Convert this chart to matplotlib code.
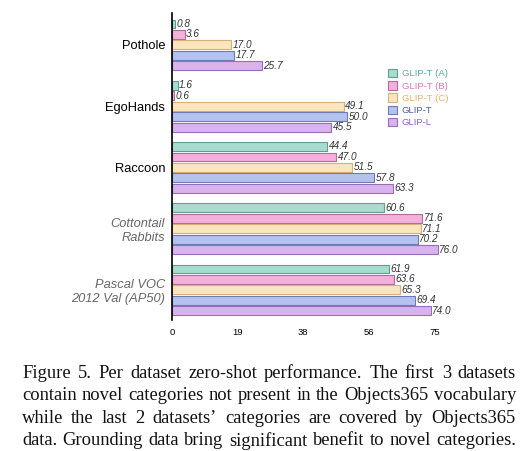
import matplotlib
matplotlib.use('Agg')
from matplotlib import pyplot as plt
from matplotlib.patches import Patch

# ── data ──────────────────────────────────────────────────────────────────────
datasets = ["Pothole", "EgoHands", "Raccoon", "Cottontail\nRabbits", "Pascal VOC\n2012 Val (AP50)"]
models = ["GLIP-T (A)", "GLIP-T (B)", "GLIP-T (C)", "GLIP-T", "GLIP-L"]
glip_t_a = [0.8, 1.6, 44.4, 60.6, 61.9]
glip_t_b = [3.6, 0.6, 47.0, 71.6, 63.6]
glip_t_c = [17.0, 49.1, 51.5, 71.1, 65.3]
glip_t = [17.7, 50.0, 57.8, 70.2, 69.4]
glip_l = [25.7, 45.5, 63.3, 76.0, 74.0]
xticks = [0, 18.75, 37.5, 56.25, 75]
xtick_labels = ["0", "19", "38", "56", "75"]
caption = [
    "Figure 5.  Per dataset zero-shot performance.  The first 3 datasets",
    "contain novel categories not present in the Objects365 vocabulary",
    "while the last 2 datasets’ categories are covered by Objects365",
    "data. Grounding data bring significant benefit to novel categories.",
]

series = [glip_t_a, glip_t_b, glip_t_c, glip_t, glip_l]
faces = ["#a8dccf", "#f2b0da", "#fbe5bf", "#b5c2f0", "#d9b2f0"]
edges = ["#5f9e90", "#b46a9c", "#d4b07a", "#6c7bb4", "#9a6eb6"]
legend_text = ["#5fa898", "#d07cb6", "#e6b46c", "#4c5c9c", "#8e5cbc"]

plt.rcParams['font.family'] = ['Liberation Sans', 'DejaVu Sans']

fig = plt.figure(figsize=(5.28, 4.51), dpi=100)
ax = fig.add_axes([0.3258, 0.2905, 0.53, 0.6807])

group_step = 5.85
for j, vals in enumerate(series):
    ys = [i * group_step + j for i in range(len(datasets))]
    ax.barh(ys, vals, height=0.85, color=faces[j], edgecolor=edges[j], linewidth=0.8)
    for y, v in zip(ys, vals):
        ax.text(v + 0.4, y, f"{v:.1f}", va="center", ha="left", fontsize=7.2,
                style="italic", color="#333333")

ax.set_ylim(28.27, -1.05)
ax.set_xlim(0, 80)
ax.set_yticks([i * group_step + 2 for i in range(len(datasets))])
ax.set_yticklabels(datasets, fontsize=9.3)
for k, lab in enumerate(ax.get_yticklabels()):
    if k >= 3:
        lab.set_style("italic")
        lab.set_color("#666666")
    lab.set_multialignment("right")
ax.set_xticks(xticks)
ax.set_xticklabels(xtick_labels, fontsize=6.8)
ax.tick_params(axis="both", length=0)
ax.tick_params(axis="x", pad=6)
ax.tick_params(axis="y", pad=5)
ax.spines[["right", "top", "bottom"]].set_visible(False)
ax.spines["left"].set_linewidth(1.2)

handles = [Patch(facecolor=faces[j], edgecolor=edges[j], linewidth=0.8) for j in range(5)]
leg = fig.legend(handles, models, loc="upper left", bbox_to_anchor=(0.725, 0.858),
                 frameon=False, fontsize=6.8, handlelength=1.0, handleheight=1.0,
                 handletextpad=0.5, labelspacing=0.3, borderpad=0)
for t, c in zip(leg.get_texts(), legend_text):
    t.set_color(c)

# caption, justified between two margins
left, right = 22 / 528, 516 / 528
renderer = fig.canvas.get_renderer()
for n, line in enumerate(caption):
    y = 1 - (373 + n * 22.6) / 451
    words = [w for w in line.split(" ") if w]
    texts = [fig.text(0, y, w, fontsize=13.3, family="Liberation Serif", va="center",
                      ha="left", color="#111111") for w in words]
    widths = [t.get_window_extent(renderer).width / fig.bbox.width for t in texts]
    gap = (right - left - sum(widths)) / (len(words) - 1)
    x = left
    for t, w in zip(texts, widths):
        t.set_x(x)
        x += w + gap

fig.savefig("out.png", dpi=100)
